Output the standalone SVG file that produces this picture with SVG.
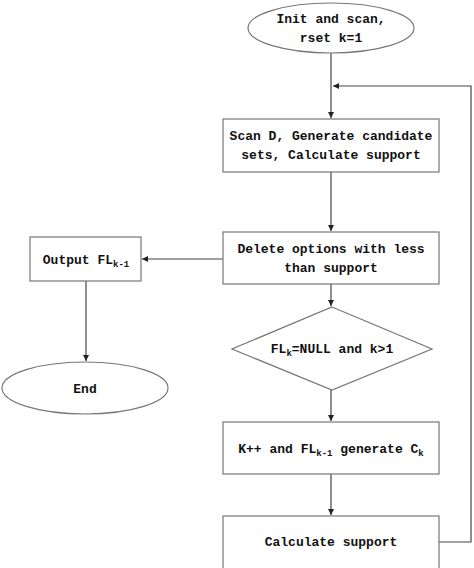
<svg xmlns="http://www.w3.org/2000/svg" width="474" height="568" viewBox="0 0 474 568">
<defs>
<marker id="ah" viewBox="0 0 6 6" refX="6" refY="3" markerWidth="6" markerHeight="6" orient="auto" markerUnits="userSpaceOnUse">
<path d="M0,0 L6,3 L0,6 z" fill="#222"/>
</marker>
</defs>
<style>
.shape{fill:#fff;stroke:#777;stroke-width:1.2}
.t{font-family:"Liberation Mono","DejaVu Sans Mono",monospace;font-size:13px;font-weight:bold;fill:#111;text-anchor:middle}
.sub{font-size:9px}
.c{fill:none;stroke:#444;stroke-width:1.2}
</style>
<rect width="474" height="568" fill="#fff"/>
<g id="connectors">
<line class="c" x1="331" y1="53" x2="331" y2="118" marker-end="url(#ah)"/>
<polyline class="c" points="439,542 471,542 471,86 333,86" marker-end="url(#ah)"/>
<line class="c" x1="331" y1="172" x2="331" y2="231" marker-end="url(#ah)"/>
<line class="c" x1="223" y1="259" x2="142" y2="259" marker-end="url(#ah)"/>
<line class="c" x1="86" y1="281" x2="86" y2="361" marker-end="url(#ah)"/>
<line class="c" x1="331" y1="284" x2="331" y2="306" marker-end="url(#ah)"/>
<line class="c" x1="331" y1="390" x2="331" y2="421" marker-end="url(#ah)"/>
<line class="c" x1="331" y1="474" x2="331" y2="515" marker-end="url(#ah)"/>
</g>
<g id="start">
<ellipse class="shape" cx="331" cy="28" rx="83" ry="25"/>
<text class="t" x="331" y="23">Init and scan,</text>
<text class="t" x="331" y="42">rset k=1</text>
</g>
<g id="scan">
<rect class="shape" x="223" y="119" width="216" height="53"/>
<text class="t" x="331" y="140">Scan D, Generate candidate</text>
<text class="t" x="331" y="159">sets, Calculate support</text>
</g>
<g id="delete">
<rect class="shape" x="223" y="232" width="216" height="52"/>
<text class="t" x="331" y="253">Delete options with less</text>
<text class="t" x="331" y="272">than support</text>
</g>
<g id="output">
<rect class="shape" x="30" y="237" width="111" height="44"/>
<text class="t" x="86" y="264">Output FL<tspan class="sub" dy="3">k-1</tspan></text>
</g>
<g id="end">
<ellipse class="shape" cx="85" cy="388" rx="83" ry="26"/>
<text class="t" x="85" y="393">End</text>
</g>
<g id="decision">
<polygon class="shape" points="332,307 432,349 332,390 232,349"/>
<text class="t" x="332" y="353">FL<tspan class="sub" dy="3">k</tspan><tspan dy="-3">=NULL and k&gt;1</tspan></text>
</g>
<g id="generate">
<rect class="shape" x="223" y="422" width="216" height="52"/>
<text class="t" x="331" y="453">K++ and FL<tspan class="sub" dy="3">k-1</tspan><tspan dy="-3"> generate C</tspan><tspan class="sub" dy="3">k</tspan></text>
</g>
<g id="calc">
<rect class="shape" x="223" y="516" width="216" height="60"/>
<text class="t" x="331" y="546">Calculate support</text>
</g>
</svg>
